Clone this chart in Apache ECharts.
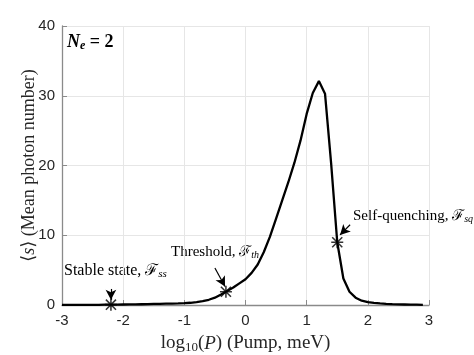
<!DOCTYPE html>
<html><head><meta charset="utf-8">
<script src="https://cdn.jsdelivr.net/npm/echarts@6/dist/echarts.min.js"></script>
<style>html,body{margin:0;padding:0;background:#fff}#c{width:474px;height:355px}</style>
</head><body><div id="c"></div>
<script>
// log10(P) sample positions and mean photon number
const logP = [-3.0,-2.9,-2.8,-2.7,-2.6,-2.5,-2.4,-2.3,-2.2,-2.1,-2.0,-1.9,-1.8,-1.7,-1.6,-1.5,-1.4,-1.3,-1.2,-1.1,-1.0,-0.9,-0.8,-0.7,-0.6,-0.5,-0.4,-0.3,-0.2,-0.1,0.0,0.1,0.2,0.3,0.4,0.5,0.6,0.7,0.8,0.9,1.0,1.1,1.2,1.3,1.4,1.5,1.6,1.7,1.8,1.9,2.0,2.1,2.2,2.3,2.4,2.5,2.6,2.7,2.8,2.9];
const meanS = [0.01,0.01,0.01,0.02,0.02,0.02,0.03,0.04,0.05,0.06,0.07,0.08,0.09,0.11,0.13,0.15,0.17,0.19,0.21,0.23,0.26,0.32,0.42,0.55,0.75,1.05,1.5,2.0,2.5,3.1,3.7,4.6,5.8,7.6,9.8,12.4,15.0,17.6,20.4,23.6,27.4,30.4,32.1,30.3,20.3,9.0,3.8,1.9,1.05,0.62,0.42,0.3,0.22,0.16,0.12,0.09,0.07,0.05,0.04,0.03];
// special points: stable state, threshold, self-quenching
const specialX = [-2.2, -0.32, 1.5];
const specialY = [0.05, 1.9, 9.0];
// annotation arrows [fromX, fromY, toX, toY]
const arrowStable = [-2.2, 2.3, -2.2, 0.75];
const arrowThreshold = [-0.5, 5.3, -0.335, 2.65];
const arrowQuench = [1.71, 11.5, 1.545, 10.05];
const xTicks = [-3,-2,-1,0,1,2,3];
const yTicks = [0,10,20,30,40];

const serif = '"Liberation Serif", "DejaVu Serif", serif';
const star = 'path://M0,8.7 L20,8.7 L20,11.3 L0,11.3 Z M8.7,0 L11.3,0 L11.3,20 L8.7,20 Z M2.5,0.7 L19.3,17.5 L17.5,19.3 L0.7,2.5 Z M17.5,0.7 L19.3,2.5 L2.5,19.3 L0.7,17.5 Z';

const lineData = logP.map((x,i)=>[x, meanS[i]]);
const starData = specialX.map((x,i)=>[x, specialY[i]]);
const arrows = [arrowStable, arrowThreshold, arrowQuench].map(a=>[{coord:[a[0],a[1]]},{coord:[a[2],a[3]]}]);

const axisColor = '#8a8a8a';
function annRich(fs){ return {n:{fontFamily:serif,fontSize:fs,fill:'#000'},
            f:{fontFamily:serif,fontSize:fs,fill:'#000'},
            sub:{fontFamily:serif,fontSize:fs-5,fontStyle:'italic',fill:'#000',padding:[6,0,0,0]}}; }
const chart = echarts.init(document.getElementById('c'));
chart.setOption({
  animation:false,
  backgroundColor:'#fff',
  grid:{left:62,right:45,top:26,bottom:50,containLabel:false,outerBoundsMode:'none'},
  xAxis:{type:'value',min:xTicks[0],max:xTicks[xTicks.length-1],interval:1,
    axisLine:{onZero:false,lineStyle:{color:axisColor,width:1.3}},
    axisTick:{inside:true,length:5,lineStyle:{color:axisColor}},
    splitLine:{show:true,lineStyle:{color:'#e6e6e6',width:1}},
    axisLabel:{color:'#262626',fontSize:15,fontFamily:'"Liberation Sans", Arial, sans-serif',margin:8},
    name:'{n|log}{sub|10}{n|(}{i|P}{n|) (Pump, meV)}',nameLocation:'middle',nameGap:28,nameMoveOverlap:false,
    nameTextStyle:{rich:{
      n:{fontFamily:serif,fontSize:19,color:'#262626'},
      i:{fontFamily:serif,fontSize:19,fontStyle:'italic',color:'#262626'},
      sub:{fontFamily:serif,fontSize:13,color:'#262626',padding:[8,0,0,0]}
    }}
  },
  yAxis:{type:'value',min:yTicks[0],max:yTicks[yTicks.length-1],interval:10,
    axisLine:{show:true,onZero:false,lineStyle:{color:axisColor,width:1.3}},
    axisTick:{show:true,inside:true,length:5,lineStyle:{color:axisColor}},
    splitLine:{show:true,lineStyle:{color:'#e6e6e6',width:1}},
    axisLabel:{color:'#262626',fontSize:15,fontFamily:'"Liberation Sans", Arial, sans-serif',margin:7},
    name:'{n|⟨}{i|s}{n|⟩ (Mean photon number)}',nameLocation:'middle',nameGap:24,nameMoveOverlap:false,
    nameTextStyle:{rich:{
      n:{fontFamily:serif,fontSize:18,color:'#262626'},
      i:{fontFamily:serif,fontSize:18,fontStyle:'italic',color:'#262626'}
    }}
  },
  series:[
    {type:'line',data:lineData,showSymbol:false,smooth:false,
     lineStyle:{color:'#000',width:2.3},z:3},
    {type:'scatter',data:starData,symbol:star,symbolSize:12,
     itemStyle:{color:'#000'},z:4,
     markLine:{silent:true,symbol:['none','arrow'],symbolSize:[8,10],
       lineStyle:{color:'#000',width:1.2,type:'solid'},label:{show:false},
       data:arrows}
    }
  ],
  graphic:[
    {type:'text',left:67,top:33,style:{
      text:'{i|N}{sub|e}{n| = 2}',
      rich:{i:{fontFamily:serif,fontSize:18,fontStyle:'italic',fontWeight:'bold',fill:'#000'},
            sub:{fontFamily:serif,fontSize:12,fontStyle:'italic',fontWeight:'bold',fill:'#000',padding:[7,0,0,0]},
            n:{fontFamily:serif,fontSize:18,fontWeight:'bold',fill:'#000'}}}},
    {type:'text',left:64,top:263,style:{text:'{n|Stable state, }{f|ℱ}{sub|ss}',rich:annRich(16)}},
    {type:'text',left:171,top:245,style:{text:'{n|Threshold, }{f|ℱ}{sub|th}',rich:annRich(15)}},
    {type:'text',left:353,top:209,style:{text:'{n|Self-quenching, }{f|ℱ}{sub|sq}',rich:annRich(15)}}
  ]
});
</script></body></html>
